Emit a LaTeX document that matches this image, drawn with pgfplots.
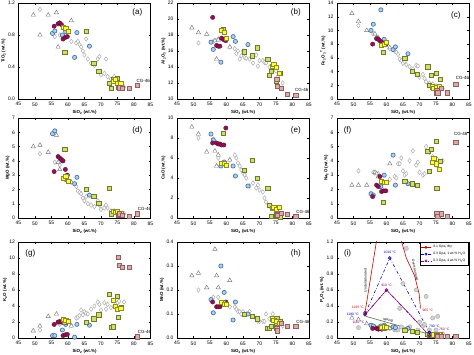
\documentclass[border=0pt]{standalone}
\usepackage{pgfplots}
\pgfplotsset{compat=1.18}
\usepackage{pgfplotstable}
\usepackage{fontspec}
\setmainfont{Liberation Sans}

\definecolor{triC}{HTML}{7A7A7A}
\definecolor{diaC}{HTML}{A8A8A8}
\definecolor{bluF}{HTML}{A9D2F2}
\definecolor{bluD}{HTML}{4F72A8}
\definecolor{magF}{HTML}{8C1450}
\definecolor{magD}{HTML}{5E0A35}
\definecolor{yelF}{HTML}{FFFF3C}
\definecolor{yelD}{HTML}{8C8C28}
\definecolor{grnF}{HTML}{CFDF6A}
\definecolor{grnD}{HTML}{6C7A2E}
\definecolor{pnkF}{HTML}{E2A9A6}
\definecolor{pnkD}{HTML}{8A6262}
\definecolor{mixC}{HTML}{5A6A50}

\pgfplotstableread{
si ti al fe mg ca na k mn p
51.5 1.12 17.0 10.7 4.5 8.0 3.3 1.0 0.20 0.13
56.0 0.78 17.2 9.5 3.9 7.9 3.2 1.7 0.17 0.15
57.5 0.80 17.5 9.0 3.7 6.0 3.1 1.7 0.17 0.12
61.0 0.72 16.5 7.3 2.5 5.8 2.7 1.6 0.13 0.12
62.5 0.70 16.3 7.0 2.2 6.3 2.9 2.5 0.13 0.10
63.0 0.72 15.7 6.8 1.9 6.0 2.8 2.6 0.12 0.10
63.5 0.68 16.0 6.5 1.8 5.5 3.8 2.8 0.11 0.10
64.0 0.65 15.0 5.8 1.7 5.2 3.8 3.5 0.11 0.37
64.5 0.60 15.4 5.6 1.4 4.8 4.2 2.9 0.10 0.14
65.0 0.55 16.0 5.2 1.2 4.5 3.3 3.3 0.11 0.68
65.5 0.75 15.2 5.5 1.5 4.3 3.0 3.1 0.10 0.10
66.0 0.50 15.1 5.0 1.0 4.0 3.1 3.0 0.10 1.12
67.0 0.45 15.0 4.7 0.9 3.2 4.0 3.6 0.11 0.14
68.0 0.42 14.5 4.4 0.8 3.5 4.7 4.0 0.09 0.08
69.0 0.50 15.5 4.9 1.2 3.0 3.7 4.5 0.08 0.60
69.5 0.53 14.1 4.8 0.9 3.3 3.9 4.2 0.07 0.10
70.0 0.30 14.8 3.2 0.6 2.8 3.2 3.5 0.07 0.20
71.0 0.32 14.8 3.6 0.7 2.6 3.0 4.4 0.07 0.15
71.5 0.50 14.6 3.0 0.9 2.0 3.1 3.6 0.07 0.17
72.0 0.28 14.5 2.5 0.7 1.6 5.0 4.2 0.10 0.52
73.0 0.25 14.0 2.3 0.5 1.2 4.6 3.8 0.08 0.10
74.0 0.28 13.8 2.2 0.5 1.1 4.3 4.0 0.10 0.25
75.0 0.20 13.5 1.9 0.4 0.9 3.7 4.4 0.08 0.10
75.5 0.17 12.8 1.7 0.4 0.6 4.1 4.6 0.06 0.27
77.0 0.15 12.0 1.5 0.3 0.4 4.0 4.5 0.05 0.05
}\tabD
\pgfplotstableread{
si ti al fe mg ca na k mn p
49.5 1.05 18.9 12.5 5.0 9.1 2.3 0.9 0.26 0.25
51.5 0.80 18.3 11.3 5.1 8.4 2.3 1.5 0.27 0.23
54.0 1.05 18.1 10.0 4.6 6.6 2.3 2.7 0.21 0.18
56.5 1.08 17.3 9.5 5.8 6.7 3.2 3.0 0.37 0.14
57.0 0.65 15.0 9.0 3.9 5.2 3.1 1.8 0.26 0.12
57.5 0.95 17.4 8.8 3.4 6.3 2.9 2.0 0.21 0.13
61.0 0.98 16.5 7.5 2.5 5.8 3.8 1.5 0.24 0.12
}\tabT
\pgfplotstableread{
si ti al fe mg ca na k mn p
55.3 0.82 17.1 10.0 5.9 8.4 1.7 0.3 0.16 0.16
56.0 0.85 16.2 10.9 6.1 7.8 1.6 0.3 0.105 0.15
58.3 0.80 14.6 13.0 4.0 5.2 2.2 1.0 0.30 0.15
59.3 0.84 17.5 8.7 2.7 5.6 3.0 1.7 0.19 0.16
62.0 0.52 17.8 7.2 2.4 5.2 4.4 0.1 0.075 0.14
62.7 0.83 17.2 7.6 2.85 4.2 2.3 1.7 0.15 0.13
66.5 0.66 16.8 6.6 1.6 3.2 2.4 1.6 0.10 0.12
}\tabB
\pgfplotstableread{
si ti al fe mg ca na k mn p
55.8 0.91 20.2 8.0 3.25 7.5 1.5 1.7 0.15 0.12
57.0 0.94 16.7 8.8 4.3 7.5 2.3 2.0 0.13 0.12
57.5 0.95 16.6 8.7 4.2 7.4 2.2 2.05 0.13 0.11
58.0 0.93 16.6 8.5 4.1 7.4 2.9 2.0 0.13 0.12
58.5 0.75 17.6 8.3 4.0 7.3 1.85 0.3 0.14 0.11
59.2 0.77 17.4 8.0 3.4 7.3 1.9 0.4 0.14 0.12
59.8 0.78 17.3 7.9 3.0 9.0 1.9 0.45 0.15 0.12
}\tabM
\pgfplotstableread{
si ti al fe mg ca na k mn p
59.0 0.58 18.7 6.8 4.8 8.5 1.1 2.0 0.15 0.12
65.5 0.85 15.9 6.0 2.0 4.8 2.6 2.0 0.10 0.10
67.8 0.45 15.4 4.1 1.5 5.8 2.4 2.4 0.09 0.08
69.3 0.35 16.4 3.6 1.05 4.0 2.3 2.9 0.08 0.07
72.5 0.20 15.0 4.7 2.1 3.0 4.7 5.5 0.04 0.05
73.0 0.13 13.0 2.0 0.3 1.3 3.3 1.3 0.04 0.04
73.6 0.24 13.5 3.5 0.5 0.2 4.8 1.4 0.05 0.05
75.0 0.26 12.2 3.8 0.4 0.25 5.4 5.2 0.06 0.04
75.2 0.16 12.5 0.8 0.3 0.15 2.1 2.6 0.08 0.03
76.2 0.15 13.2 2.9 0.3 0.1 4.0 3.8 0.07 0.04
}\tabG
\pgfplotstableread{
si ti al fe mg ca na k mn p
58.5 0.90 18.6 7.8 2.8 5.5 2.6 2.3 0.15 0.13
59.3 0.88 18.3 8.0 2.9 5.5 2.5 2.2 0.14 0.14
60.0 0.85 17.6 8.3 2.6 5.3 2.5 2.1 0.14 0.13
73.8 0.22 14.1 1.8 0.5 1.0 3.9 4.7 0.08 0.05
74.3 0.25 14.3 1.6 0.4 1.1 4.2 4.0 0.075 0.04
75.0 0.20 14.0 1.7 0.45 0.9 3.8 3.6 0.07 0.05
76.0 0.20 13.2 1.9 0.35 1.1 3.4 3.7 0.06 0.04
}\tabY
\pgfplotstableread{
si ti al fe mg ca na k mn p
75.2 0.15 12.5 1.3 0.2 0.4 0.3 10.1 0.04 0.03
75.5 0.14 11.6 0.9 0.3 0.3 0.1 9.1 0.03 0.02
76.5 0.13 11.3 1.6 0.2 0.5 0.3 8.8 0.06 0.02
78.5 0.13 10.6 0.9 0.1 0.4 0.1 8.8 0.05 0.02
81.0 0.17 10.5 2.1 0.3 0.2 5.3 0.15 0.05 0.02
}\tabP

\tikzset{
  panel/.style={font=\fontsize{8}{9}\selectfont},
  cg/.style={font=\fontsize{4.5}{5}\selectfont},
}
\pgfplotsset{
  harker/.style={scale only axis, width=132pt,
    xmin=45, xmax=85, xtick={45,50,...,85},
    tick label style={font=\fontsize{5}{5.5}\selectfont},
    xlabel style={font=\fontsize{4.4}{5}\selectfont\bfseries, yshift=3pt},
    ylabel style={font=\fontsize{4.4}{5}\selectfont\bfseries, yshift=-4.5pt},
    xlabel={SiO\textsubscript{2} (wt.\%)},
    /pgf/number format/assume math mode=true,
    major tick length=1.8pt, tick style={black, line width=0.4pt},
    axis line style={line width=0.5pt},
    clip=true},
  dia/.style={only marks, forget plot, mark=diamond*, mark size=2.3pt, mark options={draw=diaC, fill=white, line width=0.45pt}},
  tri/.style={only marks, forget plot, mark=triangle*, mark size=2.5pt, mark options={draw=triC, fill=white, line width=0.45pt}},
  blu/.style={only marks, forget plot, mark=*, mark size=2.1pt, mark options={draw=bluD, fill=bluF, line width=0.7pt}},
  mag/.style={only marks, forget plot, mark=*, mark size=2.2pt, mark options={draw=magD, fill=magF, line width=0.3pt}},
  grn/.style={only marks, forget plot, mark=square*, mark size=2.1pt, mark options={draw=grnD, fill=grnF, line width=0.5pt}},
  yel/.style={only marks, forget plot, mark=square*, mark size=2.1pt, mark options={draw=yelD, fill=yelF, line width=0.5pt}},
  pnk/.style={only marks, forget plot, mark=square*, mark size=2.1pt, mark options={draw=pnkD, fill=pnkF, line width=0.5pt}},
  onedec/.style={yticklabel style={/pgf/number format/fixed, /pgf/number format/precision=1, /pgf/number format/fixed zerofill}},
}

\newcommand{\pts}[1]{%
  \addplot[dia] table[x=si,y=#1]{\tabD};
  \addplot[tri] table[x=si,y=#1]{\tabT};
  \addplot[blu] table[x=si,y=#1]{\tabB};
  \addplot[mag] table[x=si,y=#1]{\tabM};
  \addplot[grn] table[x=si,y=#1]{\tabG};
  \addplot[yel] table[x=si,y=#1]{\tabY};
  \addplot[pnk] table[x=si,y=#1]{\tabP};
}

\begin{document}
\begin{tikzpicture}
\useasboundingbox (0pt,0pt) rectangle (474pt,355pt);
% (a)
\begin{axis}[harker, at={(18.5pt,256pt)}, height=96pt, ymin=0, ymax=1.2, ytick={0,0.4,0.8,1.2}, onedec,
  ylabel={TiO\textsubscript{2} (wt.\%)}]
\pts{ti}
\node[panel] at (rel axis cs:0.9,0.9) {(a)};
\node[cg] at (axis cs:82.8,0.23) {CG-46};
\end{axis}
% (b)
\begin{axis}[harker, at={(177pt,256pt)}, height=96pt, ymin=10, ymax=22, ytick={10,12,...,22},
  ylabel={Al\textsubscript{2}O\textsubscript{3} (wt.\%)}]
\pts{al}
\node[panel] at (rel axis cs:0.9,0.9) {(b)};
\node[cg] at (axis cs:82.8,11.1) {CG-46};
\end{axis}
% (c)
\begin{axis}[harker, at={(337pt,256pt)}, height=96pt, ymin=0, ymax=14, ytick={0,2,...,14},
  ylabel={Fe\textsubscript{2}O\textsubscript{3}\textsuperscript{T} (wt.\%)}]
\pts{fe}
\node[panel] at (rel axis cs:0.9,0.87) {(c)};
\node[cg] at (axis cs:83,3.1) {CG-46};
\end{axis}
% (d)
\begin{axis}[harker, at={(18.5pt,137pt)}, height=100pt, ymin=0, ymax=7, ytick={0,1,...,7},
  ylabel={MgO (wt.\%)}]
\pts{mg}
\node[panel] at (rel axis cs:0.9,0.88) {(d)};
\node[cg] at (axis cs:83.2,0.6) {CG-46};
\end{axis}
% (e)
\begin{axis}[harker, at={(177pt,137pt)}, height=100pt, ymin=0, ymax=10, ytick={0,2,...,10},
  ylabel={CaO (wt.\%)}]
\pts{ca}
\node[panel] at (rel axis cs:0.9,0.88) {(e)};
\node[cg] at (axis cs:83.2,0.65) {CG-46};
\end{axis}
% (f)
\begin{axis}[harker, at={(337pt,137pt)}, height=100pt, ymin=0, ymax=7, ytick={0,1,...,7},
  ylabel={Na\textsubscript{2}O (wt.\%)}]
\pts{na}
\node[panel] at (rel axis cs:0.08,0.88) {(f)};
\node[cg] at (axis cs:82.5,5.85) {CG-46};
\end{axis}
% (g)
\begin{axis}[harker, at={(18.5pt,17pt)}, height=96pt, ymin=0, ymax=12, ytick={0,2,...,12},
  ylabel={K\textsubscript{2}O (wt.\%)}]
\pts{k}
\node[panel] at (rel axis cs:0.09,0.88) {(g)};
\node[cg] at (axis cs:83.2,0.75) {CG-46};
\end{axis}
% (h)
\begin{axis}[harker, at={(177pt,17pt)}, height=96pt, ymin=0, ymax=0.4, ytick={0,0.1,...,0.4}, onedec,
  ylabel={MnO (wt.\%)}]
\pts{mn}
\node[panel] at (rel axis cs:0.9,0.88) {(h)};
\node[cg] at (axis cs:83.2,0.068) {CG-46};
\end{axis}
% (i)
\begin{axis}[harker, at={(337pt,17pt)}, height=96pt, ymin=0, ymax=1.2, ytick={0,0.2,...,1.2}, onedec,
  ylabel={P\textsubscript{2}O\textsubscript{5} (wt.\%)},
  legend style={at={(0.995,0.995)}, anchor=north east, font=\fontsize{3.4}{3.8}\selectfont,
    draw=black, line width=0.3pt, inner sep=0.8pt, row sep=-1.2pt, legend cell align=left, fill=white},
  legend image code/.code={\draw[mark repeat=2,mark phase=2,#1] plot coordinates {(0cm,0cm) (0.18cm,0cm) (0.36cm,0cm)};}]
\addplot[only marks, forget plot, mark=*, mark size=2.1pt, mark options={draw=gray!70, fill=gray!35, line width=0.4pt}] table[x=si,y=p]{\tabD};
\addplot[tri] table[x=si,y=p]{\tabT};
\addplot[blu] table[x=si,y=p]{\tabB};
\addplot[mag] table[x=si,y=p]{\tabM};
\addplot[grn] table[x=si,y=p]{\tabG};
\addplot[yel] table[x=si,y=p]{\tabY};
\addplot[pnk] table[x=si,y=p]{\tabP};
\addplot[forget plot, mixC, line width=0.6pt] coordinates {(53.8,0.27) (73.5,0.04)};
\addplot[forget plot, red!80!black, line width=0.6pt, mark=o, mark size=1.4pt, mark indices={1,8}]
  coordinates {(53.5,0.32) (57.5,1.35) (60.5,1.7) (63.2,1.4) (66,1.0) (68.5,0.78) (69.9,0.55) (70.3,0.37)};
\addplot[forget plot, blue!75!black, line width=0.6pt, dash dot, mark=o, mark size=1.4pt, mark options={solid}]
  coordinates {(53.5,0.30) (61,1.0) (73,0.07)};
\addplot[forget plot, violet, line width=0.6pt, dash dot dot, mark=o, mark size=1.4pt, mark options={solid}]
  coordinates {(53.5,0.29) (60,0.6) (73,0.03)};
\addplot[forget plot, violet, line width=0.5pt] coordinates {(53.5,0.29) (60,0.6) (67,0.3) (73,0.03)};
\addlegendimage{red!80!black, line width=0.5pt, mark=o, mark size=1.1pt}
\addlegendentry{0.1 Gpa, dry}
\addlegendimage{blue!75!black, line width=0.5pt, dash dot, mark=o, mark size=1.1pt, mark options={solid}}
\addlegendentry{0.3 Gpa, 1 wt.\% H\textsubscript{2}O}
\addlegendimage{violet, line width=0.5pt, dash dot dot, mark=o, mark size=1.1pt, mark options={solid}}
\addlegendentry{0.3 Gpa, 4 wt.\% H\textsubscript{2}O}
\node[panel] at (rel axis cs:0.08,0.88) {(i)};
\begin{scope}[font=\fontsize{3.4}{4}\selectfont]
\node[red!80!black] at (axis cs:51.3,0.38) {1245 °C};
\node[blue!75!black] at (axis cs:49.8,0.30) {1180 °C};
\node[violet] at (axis cs:51.5,0.19) {1110 °C};
\node[blue!75!black] at (axis cs:61,1.07) {1010 °C};
\node[violet] at (axis cs:60,0.66) {910 °C};
\node[red!80!black] at (axis cs:72.5,0.35) {965 °C};
\node[blue!75!black] at (axis cs:74.5,0.14) {790 °C};
\node[violet] at (axis cs:77.5,0.11) {760 °C};
\node[rotate=90] at (axis cs:53.6,0.72) {Undersaturated};
\node[rotate=-78] at (axis cs:68.7,0.85) {Oversaturated};
\node[rotate=-12] at (axis cs:60.5,0.22) {Mixing};
\end{scope}
\end{axis}
\end{tikzpicture}
\end{document}
